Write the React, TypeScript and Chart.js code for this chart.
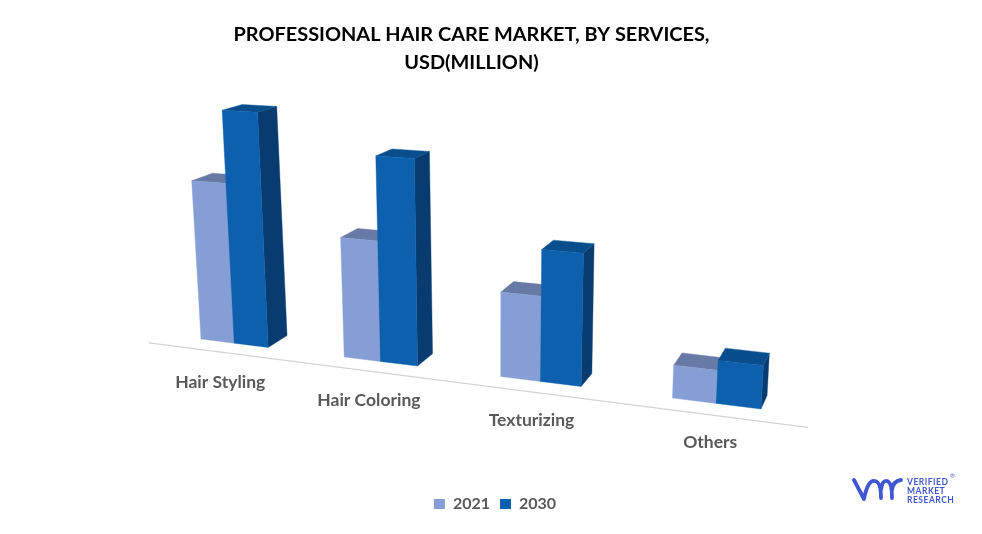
import React, { useEffect, useRef } from "react";
import { Chart, registerables } from "chart.js";

Chart.register(...registerables);

const categories = ["Hair Styling", "Hair Coloring", "Texturizing", "Others"];
const values2021 = [69.6, 50.8, 34.7, 13];
const values2030 = [100, 85.2, 53.2, 16.9];
const titleLines = ["PROFESSIONAL HAIR CARE MARKET, BY SERVICES,", "USD(MILLION)"];
const logoLines = ["VERIFIED", "MARKET", "RESEARCH"];

const FRONT = { d2021: "#859FD6", d2030: "#0C60AE" };
const TOP = { d2021: "#6779A5", d2030: "#084E8D" };
const SIDE = { d2021: "#5C6E99", d2030: "#083C70" };
const FONT = "Lato, sans-serif";

// Perspective of the floor and the front wall of the 3D view.
const QUAD = [
  [201, 339],
  [761, 409],
  [775.5, 140],
  [187.5, 108.4],
];
const S0 = 0.065;
const SW = 0.87;
const VANISH = [994, -110];
const DEPTH = 0.026;

function makeHomography(q: number[][]) {
  const [[x0, y0], [x1, y1], [x2, y2], [x3, y3]] = q;
  const dx1 = x1 - x2, dx2 = x3 - x2, sx = x0 - x1 + x2 - x3;
  const dy1 = y1 - y2, dy2 = y3 - y2, sy = y0 - y1 + y2 - y3;
  const den = dx1 * dy2 - dx2 * dy1;
  const g = (sx * dy2 - dx2 * sy) / den;
  const h = (dx1 * sy - sx * dy1) / den;
  const a = x1 - x0 + g * x1, b = x3 - x0 + h * x3;
  const d = y1 - y0 + g * y1, e = y3 - y0 + h * y3;
  return (u: number, v: number) => {
    const w = g * u + h * v + 1;
    return [(a * u + b * v + x0) / w, (d * u + e * v + y0) / w];
  };
}
const H = makeHomography(QUAD);
const toBack = (p: number[]) => [p[0] + DEPTH * (VANISH[0] - p[0]), p[1] + DEPTH * (VANISH[1] - p[1])];

function poly(ctx: CanvasRenderingContext2D, pts: number[][], color: string) {
  ctx.beginPath();
  pts.forEach((p, i) => (i ? ctx.lineTo(p[0], p[1]) : ctx.moveTo(p[0], p[1])));
  ctx.closePath();
  ctx.fillStyle = color;
  ctx.strokeStyle = color;
  ctx.lineWidth = 0.4;
  ctx.fill();
  ctx.stroke();
}

const perspectivePlugin = {
  id: "perspective",
  afterLayout(chart: any) {
    // Reference title sits left of centre, legend slightly right of it.
    chart.titleBlock.left -= 19.5;
    chart.titleBlock.right -= 19.5;
    chart.legend.left += 4;
    chart.legend.right += 4;
  },
  beforeDatasetsDraw(chart: any) {
    const ctx: CanvasRenderingContext2D = chart.ctx;
    const xs = chart.scales.x;
    const ys = chart.scales.y;
    const area = chart.chartArea;
    const zero = ys.getPixelForValue(0);
    const full = ys.getPixelForValue(100);
    const P = (px: number, py: number) => {
      const s = (px - area.left) / (area.right - area.left);
      return H((s - S0) / SW, (zero - py) / (zero - full));
    };
    ctx.save();
    // axis line
    const drop = zero + 0.048 * (zero - full);
    const a = P(area.left - 0.033 * area.width, drop);
    const b = P(area.right - 0.003 * area.width, drop);
    ctx.beginPath();
    ctx.moveTo(a[0], a[1]);
    ctx.lineTo(b[0], b[1]);
    ctx.strokeStyle = "#D4D4D4";
    ctx.lineWidth = 1.2;
    ctx.stroke();
    // bars
    categories.forEach((_, j) => {
      chart.data.datasets.forEach((ds: any, i: number) => {
        const el = chart.getDatasetMeta(i).data[j];
        const key = i === 0 ? "d2021" : "d2030";
        const l = el.x - el.width / 2;
        const r = el.x + el.width / 2;
        const bl = P(l, el.base), br = P(r, el.base), tr = P(r, el.y), tl = P(l, el.y);
        poly(ctx, [br, tr, toBack(tr), toBack(br)], (SIDE as any)[key]);
        poly(ctx, [tl, tr, toBack(tr), toBack(tl)], (TOP as any)[key]);
        poly(ctx, [bl, br, tr, tl], (FRONT as any)[key]);
      });
    });
    // category labels
    ctx.font = `bold 17.5px ${FONT}`;
    ctx.fillStyle = "#595959";
    ctx.textAlign = "center";
    ctx.textBaseline = "middle";
    categories.forEach((name, j) => {
      const p = P(xs.getPixelForValue(j), zero);
      ctx.fillText(name, p[0] - 14 + 0.0165 * (p[0] - 234), p[1] + 39);
    });
    // brand mark
    ctx.strokeStyle = "#3F57D2";
    ctx.lineWidth = 3.8;
    ctx.lineCap = "round";
    ctx.lineJoin = "round";
    ctx.beginPath();
    ctx.moveTo(854, 480);
    ctx.lineTo(864, 499);
    ctx.quadraticCurveTo(868, 479, 875, 481);
    ctx.quadraticCurveTo(881, 482, 881, 498);
    ctx.moveTo(881, 490);
    ctx.quadraticCurveTo(882, 480, 887, 481);
    ctx.quadraticCurveTo(892, 482, 892, 498);
    ctx.moveTo(892, 490);
    ctx.quadraticCurveTo(893, 481, 901, 480);
    ctx.stroke();
    ctx.font = `bold 8.5px ${FONT}`;
    ctx.fillStyle = "#3F57D2";
    ctx.textAlign = "left";
    (ctx as any).letterSpacing = "0.5px";
    logoLines.forEach((t, k) => ctx.fillText(t, 907, 482 + k * 9.2));
    (ctx as any).letterSpacing = "0px";
    ctx.font = `6px ${FONT}`;
    ctx.fillText("®", 950, 476);
    ctx.restore();
    return false;
  },
};

export default function App() {
  const ref = useRef<HTMLCanvasElement>(null);
  useEffect(() => {
    const chart = new Chart(ref.current!, {
      type: "bar",
      data: {
        labels: categories,
        datasets: [
          { label: "2021", data: values2021, backgroundColor: FRONT.d2021, borderWidth: 0 },
          { label: "2030", data: values2030, backgroundColor: FRONT.d2030, borderWidth: 0 },
        ],
      },
      options: {
        responsive: false,
        animation: false,
        devicePixelRatio: 1,
        layout: { padding: { top: 0, left: 0, right: 0, bottom: 12 } },
        datasets: { bar: { categoryPercentage: 0.48, barPercentage: 1 } },
        scales: {
          x: { display: false, stacked: false },
          y: { display: false, min: 0, max: 100 },
        },
        plugins: {
          tooltip: { enabled: false },
          title: {
            display: true,
            text: titleLines,
            color: "#000000",
            font: { family: FONT, weight: "bold", size: 19.9, lineHeight: 1.4 },
            padding: { top: 21, bottom: 10 },
          },
          legend: {
            display: true,
            position: "bottom",
            labels: {
              boxWidth: 11,
              boxHeight: 10,
              color: "#595959",
              padding: 10,
              font: { family: FONT, weight: "bold", size: 16 },
            },
          },
        },
      } as any,
      plugins: [perspectivePlugin as any],
    });
    return () => chart.destroy();
  }, []);
  return (
    <div style={{ position: "absolute", left: 0, top: 0, width: 982, height: 534 }}>
      <canvas ref={ref} width={982} height={534} style={{ display: "block" }} />
    </div>
  );
}
